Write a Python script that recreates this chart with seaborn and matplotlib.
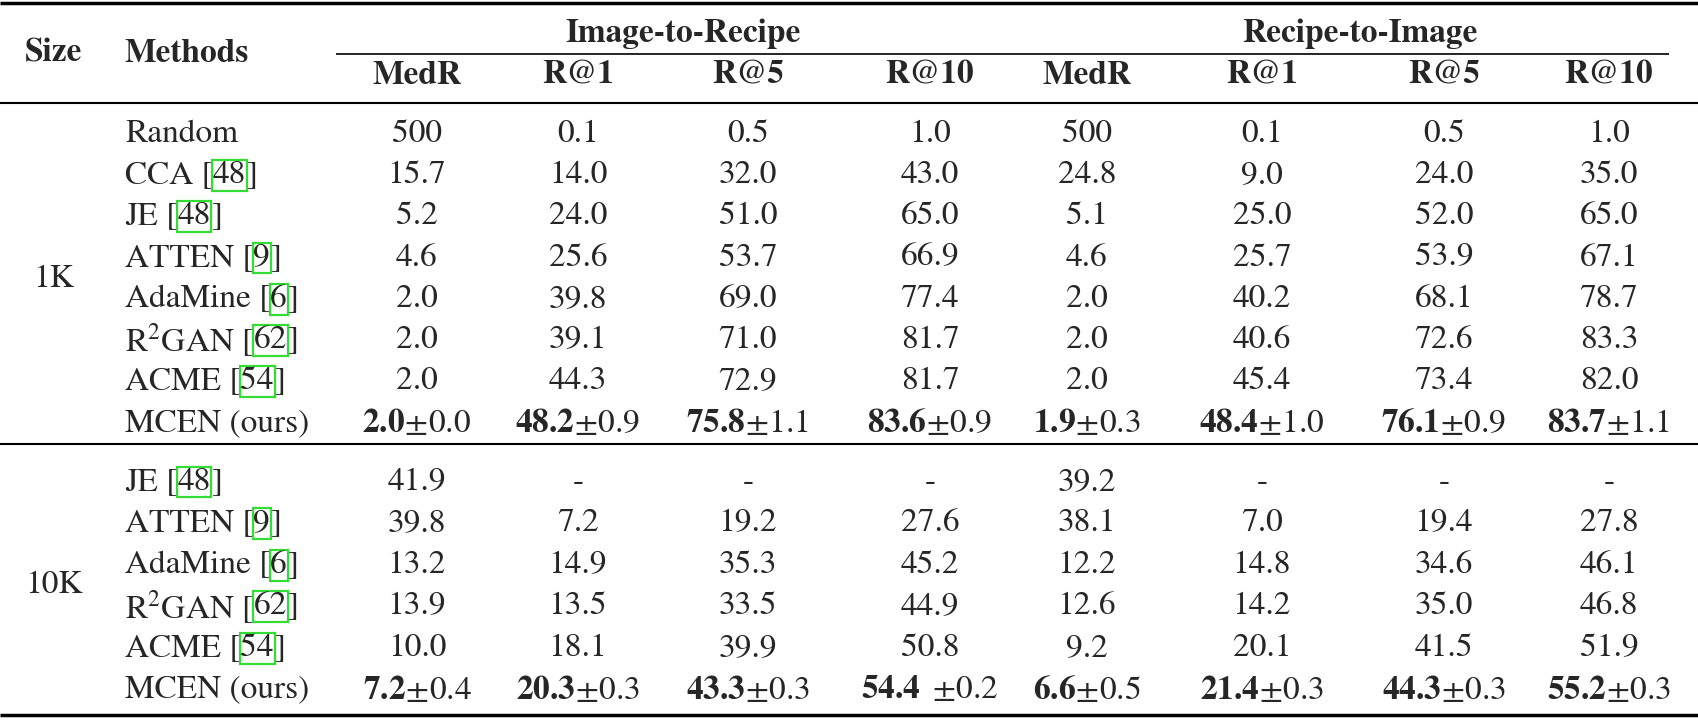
import matplotlib
matplotlib.use("Agg")
import matplotlib.pyplot as plt
import seaborn as sns

sns.set_theme(style="white")
plt.rcParams['font.family'] = ['STIXGeneral', 'DejaVu Serif']
plt.rcParams['mathtext.fontset'] = 'stix'

groups = ["Image-to-Recipe", "Recipe-to-Image"]
metrics = ["MedR", "R@1", "R@5", "R@10"]
sizes = ["1K", "10K"]
methods_1k = [("Random", None), ("CCA", "48"), ("JE", "48"), ("ATTEN", "9"), ("AdaMine", "6"),
              ("R$^2$GAN", "62"), ("ACME", "54"), ("MCEN (ours)", None)]
values_1k = [
    ["500", "0.1", "0.5", "1.0", "500", "0.1", "0.5", "1.0"],
    ["15.7", "14.0", "32.0", "43.0", "24.8", "9.0", "24.0", "35.0"],
    ["5.2", "24.0", "51.0", "65.0", "5.1", "25.0", "52.0", "65.0"],
    ["4.6", "25.6", "53.7", "66.9", "4.6", "25.7", "53.9", "67.1"],
    ["2.0", "39.8", "69.0", "77.4", "2.0", "40.2", "68.1", "78.7"],
    ["2.0", "39.1", "71.0", "81.7", "2.0", "40.6", "72.6", "83.3"],
    ["2.0", "44.3", "72.9", "81.7", "2.0", "45.4", "73.4", "82.0"],
    [r"$\mathbf{2.0}\!\pm\!0.0$", r"$\mathbf{48.2}\!\pm\!0.9$", r"$\mathbf{75.8}\!\pm\!1.1$", r"$\mathbf{83.6}\!\pm\!0.9$",
     r"$\mathbf{1.9}\!\pm\!0.3$", r"$\mathbf{48.4}\!\pm\!1.0$", r"$\mathbf{76.1}\!\pm\!0.9$", r"$\mathbf{83.7}\!\pm\!1.1$"],
]
methods_10k = [("JE", "48"), ("ATTEN", "9"), ("AdaMine", "6"), ("R$^2$GAN", "62"), ("ACME", "54"),
               ("MCEN (ours)", None)]
values_10k = [
    ["41.9", "-", "-", "-", "39.2", "-", "-", "-"],
    ["39.8", "7.2", "19.2", "27.6", "38.1", "7.0", "19.4", "27.8"],
    ["13.2", "14.9", "35.3", "45.2", "12.2", "14.8", "34.6", "46.1"],
    ["13.9", "13.5", "33.5", "44.9", "12.6", "14.2", "35.0", "46.8"],
    ["10.0", "18.1", "39.9", "50.8", "9.2", "20.1", "41.5", "51.9"],
    [r"$\mathbf{7.2}\!\pm\!0.4$", r"$\mathbf{20.3}\!\pm\!0.3$", r"$\mathbf{43.3}\!\pm\!0.3$", r"$\mathbf{54.4}\ \pm\!0.2$",
     r"$\mathbf{6.6}\!\pm\!0.5$", r"$\mathbf{21.4}\!\pm\!0.3$", r"$\mathbf{44.3}\!\pm\!0.3$", r"$\mathbf{55.2}\!\pm\!0.3$"],
]

fig = plt.figure(figsize=(16.99, 7.2), dpi=100)
ax = fig.add_axes([0, 0, 1, 1])
ax.set_xlim(0, 1699)
ax.set_ylim(720, 0)
ax.axis("off")
fs = 24
col_x = [417, 578, 748, 930, 1087, 1262, 1444, 1609]
meth_x = 125
renderer = fig.canvas.get_renderer()

def hline(y, x0=0, x1=1699, lw=2.0):
    ax.plot([x0, x1], [y, y], color="black", lw=lw, solid_capstyle="butt")

hline(3, lw=2.5)
hline(54, 336, 1669, lw=1.2)
hline(103, lw=1.5)
hline(444, lw=1.5)
hline(715, lw=2.5)

ax.text(54, 54, "Size", fontsize=fs, weight="bold", ha="center", va="center")
ax.text(meth_x, 54, "Methods", fontsize=fs, weight="bold", ha="left", va="center")
ax.text(683, 34, groups[0], fontsize=fs, weight="bold", ha="center", va="center")
ax.text(1360, 34, groups[1], fontsize=fs, weight="bold", ha="center", va="center")
for i, x in enumerate(col_x):
    ax.text(x, 76, metrics[i % 4], fontsize=fs, weight="bold", ha="center", va="center")

def method(y, name, cite):
    t = ax.text(meth_x, y, name + (" [" if cite else ""), fontsize=fs, ha="left", va="center")
    if cite:
        bb = t.get_window_extent(renderer)
        x = bb.x1
        t2 = ax.text(x, y, cite, fontsize=fs, ha="left", va="center",
                     bbox=dict(boxstyle="square,pad=0.02", fc="none", ec="#33dd33", lw=1.6))
        bb2 = t2.get_window_extent(renderer)
        ax.text(bb2.x1 + 1, y, "]", fontsize=fs, ha="left", va="center")

rows_1k = [134 + 41.3 * i for i in range(8)]
rows_10k = [482 + 41.6 * i for i in range(6)]
ax.text(54, 279, sizes[0], fontsize=fs, ha="center", va="center")
ax.text(54, 585, sizes[1], fontsize=fs, ha="center", va="center")
for y, (n, c), vals in zip(rows_1k, methods_1k, values_1k):
    method(y, n, c)
    for x, v in zip(col_x, vals):
        ax.text(x, y, v, fontsize=fs, ha="center", va="center")
for y, (n, c), vals in zip(rows_10k, methods_10k, values_10k):
    method(y, n, c)
    for x, v in zip(col_x, vals):
        ax.text(x, y, v, fontsize=fs, ha="center", va="center")

fig.savefig("out.png", dpi=100)
